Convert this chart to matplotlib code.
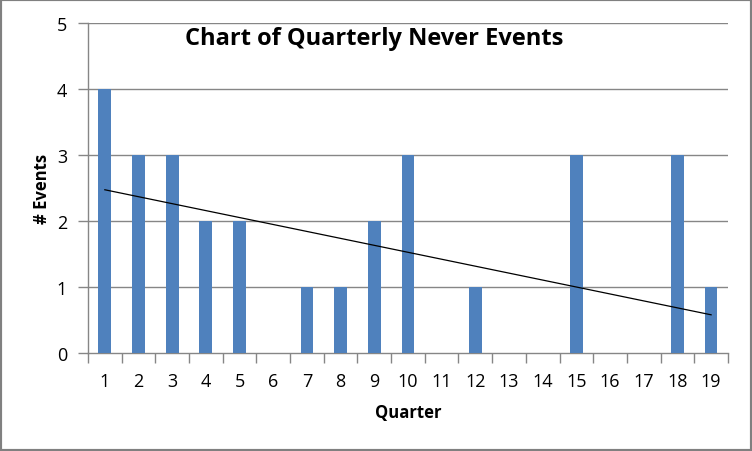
import numpy as np
import matplotlib
matplotlib.use("Agg")
import matplotlib.pyplot as plt
from matplotlib.patches import Rectangle

plt.rcParams["font.family"] = ["Open Sans", "DejaVu Sans"]

quarters = list(range(1, 20))
events = [4, 3, 3, 2, 2, 0, 1, 1, 2, 3, 0, 1, 0, 0, 3, 0, 0, 3, 1]

BAR = "#4f81bd"
GRID = "#868686"

fig = plt.figure(figsize=(7.52, 4.52), dpi=100)
ax = fig.add_axes([0.117, 0.2168, 0.851, 0.730])

pos = np.arange(len(quarters))
ax.bar(pos, events, width=0.38, color=BAR, zorder=3)

# linear trendline
slope, icpt = np.polyfit(quarters, events, 1)
tx = np.array([quarters[0], quarters[-1]])
ax.plot(tx - 1, slope * tx + icpt, color="black", lw=0.9, zorder=4)

ax.set_xlim(-0.5, len(quarters) - 0.5)
ax.set_ylim(0, 5)
ax.set_yticks(range(6))
ax.set_xticks(pos)
ax.set_xticklabels([str(q) for q in quarters])
ax.set_xticks(np.arange(-0.5, len(quarters)), minor=True)
ax.tick_params(axis="x", which="major", length=0, pad=14, labelsize=13)
ax.tick_params(axis="x", which="minor", length=7, width=1, color=GRID)
ax.tick_params(axis="y", length=7, width=1, color=GRID, pad=8, labelsize=13)

for y in range(1, 6):
    ax.axhline(y, color=GRID, lw=1, zorder=1)
for s in ["top", "right"]:
    ax.spines[s].set_visible(False)
for s in ["left", "bottom"]:
    ax.spines[s].set_color(GRID)
    ax.spines[s].set_linewidth(1)

ax.set_xlabel("Quarter", fontsize=12, fontweight="bold", labelpad=9)
ax.set_ylabel("# Events", fontsize=12, fontweight="bold", labelpad=4)

ax.text(0.448, 0.955, "Chart of Quarterly Never Events", transform=ax.transAxes,
        ha="center", va="center", fontsize=17, fontweight="bold")

fig.patches.append(Rectangle((0, 0), 1, 1, transform=fig.transFigure,
                             fill=False, edgecolor="#808080", lw=3))

fig.savefig("out.png", dpi=100)
